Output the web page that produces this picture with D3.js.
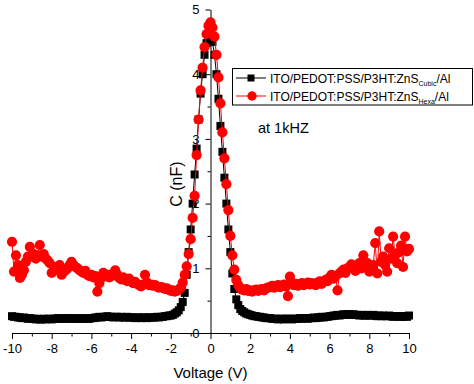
<!DOCTYPE html>
<html>
<head>
<meta charset="utf-8">
<script src="https://cdn.jsdelivr.net/npm/d3@7"></script>
<style>
  body { margin: 0; background: #fff; }
  svg { display: block; }
  text { font-family: Arial, "Liberation Sans", sans-serif; }
</style>
</head>
<body>
<div id="content"></div>
<script>
// ******* DATA *******
// bias sweep (V)
const voltage = [
  -10, -9.9, -9.8, -9.7, -9.6, -9.5, -9.4, -9.3, -9.2, -9.1,
  -9, -8.9, -8.8, -8.7, -8.6, -8.5, -8.4, -8.3, -8.2, -8.1,
  -8, -7.9, -7.8, -7.7, -7.6, -7.5, -7.4, -7.3, -7.2, -7.1,
  -7, -6.9, -6.8, -6.7, -6.6, -6.5, -6.4, -6.3, -6.2, -6.1,
  -6, -5.9, -5.8, -5.7, -5.6, -5.5, -5.4, -5.3, -5.2, -5.1,
  -5, -4.9, -4.8, -4.7, -4.6, -4.5, -4.4, -4.3, -4.2, -4.1,
  -4, -3.9, -3.8, -3.7, -3.6, -3.5, -3.4, -3.3, -3.2, -3.1,
  -3, -2.9, -2.8, -2.7, -2.6, -2.5, -2.4, -2.3, -2.2, -2.1,
  -2, -1.9, -1.8, -1.7, -1.6, -1.5, -1.4, -1.3, -1.2, -1.1,
  -1, -0.9, -0.8, -0.7, -0.6, -0.5, -0.4, -0.3, -0.2, -0.1,
  0, 0.1, 0.2, 0.3, 0.4, 0.5, 0.6, 0.7, 0.8, 0.9,
  1, 1.1, 1.2, 1.3, 1.4, 1.5, 1.6, 1.7, 1.8, 1.9,
  2, 2.1, 2.2, 2.3, 2.4, 2.5, 2.6, 2.7, 2.8, 2.9,
  3, 3.1, 3.2, 3.3, 3.4, 3.5, 3.6, 3.7, 3.8, 3.9,
  4, 4.1, 4.2, 4.3, 4.4, 4.5, 4.6, 4.7, 4.8, 4.9,
  5, 5.1, 5.2, 5.3, 5.4, 5.5, 5.6, 5.7, 5.8, 5.9,
  6, 6.1, 6.2, 6.3, 6.4, 6.5, 6.6, 6.7, 6.8, 6.9,
  7, 7.1, 7.2, 7.3, 7.4, 7.5, 7.6, 7.7, 7.8, 7.9,
  8, 8.1, 8.2, 8.3, 8.4, 8.5, 8.6, 8.7, 8.8, 8.9,
  9, 9.1, 9.2, 9.3, 9.4, 9.5, 9.6, 9.7, 9.8, 9.9,
  10
];

// capacitance (nF), cubic ZnS device
const capCubic = [
  0.26, 0.25, 0.25, 0.24, 0.24, 0.23, 0.24, 0.23, 0.22, 0.23,
  0.22, 0.22, 0.21, 0.22, 0.21, 0.21, 0.22, 0.21, 0.22, 0.22,
  0.21, 0.22, 0.22, 0.23, 0.22, 0.22, 0.23, 0.22, 0.22, 0.23,
  0.22, 0.23, 0.22, 0.22, 0.23, 0.22, 0.22, 0.23, 0.22, 0.22,
  0.23, 0.23, 0.24, 0.24, 0.25, 0.24, 0.25, 0.25, 0.26, 0.25,
  0.25, 0.24, 0.25, 0.25, 0.24, 0.25, 0.24, 0.24, 0.25, 0.24,
  0.24, 0.24, 0.23, 0.24, 0.24, 0.23, 0.24, 0.24, 0.23, 0.24,
  0.24, 0.24, 0.24, 0.25, 0.24, 0.25, 0.25, 0.26, 0.26, 0.27,
  0.27, 0.28, 0.30, 0.32, 0.35, 0.40, 0.48, 0.62, 0.90, 1.25,
  1.60, 2.00, 2.45, 2.85, 3.30, 3.70, 4.00, 4.30, 4.48, 4.55,
  4.57, 4.50, 4.30, 4.00, 3.62, 3.20, 2.80, 2.40, 2.00, 1.60,
  1.25, 0.92, 0.68, 0.52, 0.43, 0.37, 0.34, 0.32, 0.30, 0.29,
  0.28, 0.27, 0.26, 0.26, 0.25, 0.25, 0.24, 0.24, 0.23, 0.23,
  0.23, 0.22, 0.22, 0.22, 0.21, 0.22, 0.22, 0.21, 0.22, 0.22,
  0.22, 0.21, 0.22, 0.22, 0.22, 0.23, 0.22, 0.23, 0.23, 0.22,
  0.23, 0.23, 0.24, 0.23, 0.24, 0.24, 0.25, 0.24, 0.25, 0.25,
  0.26, 0.26, 0.27, 0.27, 0.28, 0.27, 0.28, 0.29, 0.28, 0.29,
  0.29, 0.28, 0.29, 0.28, 0.28, 0.27, 0.28, 0.27, 0.27, 0.28,
  0.27, 0.27, 0.28, 0.27, 0.26, 0.27, 0.26, 0.27, 0.26, 0.26,
  0.27, 0.26, 0.25, 0.26, 0.26, 0.25, 0.26, 0.25, 0.26, 0.25,
  0.27
];

// capacitance (nF), hexagonal ZnS device
const capHexa = [
  1.41, 0.95, 1.20, 1.05, 0.85, 0.90, 0.97, 1.10, 1.18, 1.33,
  1.18, 1.22, 1.15, 1.20, 1.36, 1.18, 1.22, 1.15, 1.12, 1.08,
  0.93, 0.96, 1.02, 1.00, 1.05, 0.90, 0.95, 0.97, 1.00, 1.05,
  1.10, 1.05, 1.02, 1.00, 0.97, 0.95, 0.93, 0.96, 0.90, 0.88,
  0.90, 0.86, 0.88, 0.64, 0.77, 0.85, 0.93, 0.88, 0.90, 0.86,
  0.88, 0.92, 0.97, 0.90, 0.85, 0.83, 0.86, 0.82, 0.80, 0.84,
  0.80, 0.77, 0.79, 0.76, 0.74, 0.72, 0.75, 0.90, 0.78, 0.74,
  0.75, 0.73, 0.74, 0.72, 0.70, 0.71, 0.70, 0.68, 0.69, 0.67,
  0.65, 0.66, 0.64, 0.65, 0.67, 0.70, 0.78, 0.90, 1.03, 1.22,
  1.45, 1.78, 2.12, 2.75, 3.30, 3.75, 4.10, 4.42, 4.62, 4.75,
  4.80, 4.72, 4.58, 4.30, 3.95, 3.55, 3.10, 2.70, 2.30, 1.90,
  1.50, 1.20, 0.98, 0.82, 0.74, 0.69, 0.67, 0.66, 0.68, 0.65,
  0.66, 0.64, 0.66, 0.67, 0.65, 0.67, 0.68, 0.66, 0.69, 0.70,
  0.71, 0.73, 0.70, 0.72, 0.74, 0.71, 0.73, 0.75, 0.72, 0.57,
  0.87, 0.78, 0.74, 0.76, 0.73, 0.75, 0.77, 0.74, 0.76, 0.78,
  0.75, 0.77, 0.76, 0.74, 0.78, 0.80, 0.76, 0.79, 0.82, 0.80,
  0.86, 0.90, 0.84, 0.88, 0.66, 0.92, 0.95, 0.98, 0.93, 1.00,
  1.02, 1.06, 1.00, 0.96, 1.04, 1.08, 1.00, 1.20, 1.05, 1.08,
  0.95, 1.00, 1.05, 1.39, 0.92, 1.57, 1.10, 1.18, 1.05, 0.95,
  1.31, 1.15, 1.49, 1.20, 1.08, 1.25, 1.35, 1.02, 1.49, 1.26,
  1.30
];

const seriesNames = ["Cubic", "Hexa"];
const xMajorTicks = [-10, -8, -6, -4, -2, 0, 2, 4, 6, 8, 10];
const xMinorTicks = [-9, -7, -5, -3, -1, 1, 3, 5, 7, 9];
const yMajorTicks = [0, 1, 2, 3, 4, 5];
const yMinorTicks = [0.5, 1.5, 2.5, 3.5, 4.5];

// ******* SETUP *******
const width = 474, height = 384;

const svg = d3.select("#content").append("svg")
    .attr("width", width)
    .attr("height", height);

const x = d3.scaleLinear().domain([-10, 10]).range([12, 409]);
const y = d3.scaleLinear().domain([0, 5]).range([333, 9.5]);

const cubicData = voltage.map((v, i) => ({ v: v, c: capCubic[i] }));
const hexaData = voltage.map((v, i) => ({ v: v, c: capHexa[i] }));

// plain hyphen minus like the original
const plainFormat = d => String(d);

//******* AXES *******
// x minor ticks
svg.append("g")
    .attr("transform", `translate(0,${y(0)})`)
    .call(d3.axisBottom(x).tickValues(xMinorTicks).tickSize(3.5).tickFormat(""))
    .call(g => g.select(".domain").remove());

// x major ticks + labels
const xAxis = svg.append("g")
    .attr("transform", `translate(0,${y(0)})`)
    .call(d3.axisBottom(x).tickValues(xMajorTicks).tickFormat(plainFormat)
        .tickSize(6).tickSizeOuter(0).tickPadding(5));
xAxis.selectAll("text")
    .attr("font-size", 13)
    .attr("fill", "#000")
    .attr("font-family", "Arial, 'Liberation Sans', sans-serif");

// y minor ticks
svg.append("g")
    .attr("transform", `translate(${x(0)},0)`)
    .call(d3.axisLeft(y).tickValues(yMinorTicks).tickSize(3).tickFormat(""))
    .call(g => g.select(".domain").remove());

// y major ticks + labels (drawn inside the plot, left of the 0 V line)
const yAxis = svg.append("g")
    .attr("transform", `translate(${x(0)},0)`)
    .call(d3.axisLeft(y).tickValues(yMajorTicks).tickFormat(plainFormat)
        .tickSize(5).tickSizeOuter(0).tickPadding(6));
yAxis.selectAll("text")
    .attr("font-size", 13)
    .attr("fill", "#000")
    .attr("font-family", "Arial, 'Liberation Sans', sans-serif");

svg.selectAll(".domain, .tick line").attr("stroke", "#000").attr("stroke-width", 1);

// axis titles
svg.append("text")
    .attr("x", x(0))
    .attr("y", 378)
    .attr("text-anchor", "middle")
    .attr("font-size", 15)
    .text("Voltage (V)");

svg.append("text")
    .attr("transform", `translate(182,${y(2.3)}) rotate(-90)`)
    .attr("text-anchor", "middle")
    .attr("font-size", 16)
    .text("C (nF)");

//******* SERIES *******
const line = d3.line().x(d => x(d.v)).y(d => y(d.c));

// cubic: black squares
svg.append("path")
    .datum(cubicData)
    .attr("fill", "none")
    .attr("stroke", "#000")
    .attr("stroke-width", 1)
    .attr("d", line);

const sq = 8;
svg.append("g").selectAll("rect")
    .data(cubicData)
    .join("rect")
    .attr("x", d => x(d.v) - sq / 2)
    .attr("y", d => y(d.c) - sq / 2)
    .attr("width", sq)
    .attr("height", sq)
    .attr("fill", "#000");

// hexa: red circles
svg.append("path")
    .datum(hexaData)
    .attr("fill", "none")
    .attr("stroke", "#ff0000")
    .attr("stroke-width", 1)
    .attr("d", line);

const rad = 5.1;
svg.append("g").selectAll("circle")
    .data(hexaData)
    .join("circle")
    .attr("cx", d => x(d.v))
    .attr("cy", d => y(d.c))
    .attr("r", rad)
    .attr("fill", "#ff0000");

//******* LEGEND *******
const legend = svg.append("g");

legend.append("rect")
    .attr("x", 232.5)
    .attr("y", 68.5)
    .attr("width", 240)
    .attr("height", 36.5)
    .attr("fill", "#fff")
    .attr("stroke", "#000")
    .attr("stroke-width", 1);

const legendRows = [78, 96];
seriesNames.forEach((name, i) => {
    const ly = legendRows[i];
    const color = i === 0 ? "#000" : "#ff0000";

    legend.append("line")
        .attr("x1", 236).attr("x2", 266)
        .attr("y1", ly).attr("y2", ly)
        .attr("stroke", color)
        .attr("stroke-width", 1);

    if (i === 0) {
        legend.append("rect")
            .attr("x", 251 - 3.5).attr("y", ly - 3.5)
            .attr("width", 7).attr("height", 7)
            .attr("fill", color);
    } else {
        legend.append("circle")
            .attr("cx", 252).attr("cy", ly)
            .attr("r", 4.7)
            .attr("fill", color);
    }

    const t = legend.append("text")
        .attr("x", 270)
        .attr("y", ly + 4.5)
        .attr("font-size", 12);
    t.append("tspan").text("ITO/PEDOT:PSS/P3HT:ZnS");
    t.append("tspan").attr("font-size", 7).attr("dy", 3).text(name);
    t.append("tspan").attr("dy", -3).text("/Al");
});

svg.append("text")
    .attr("x", 258)
    .attr("y", 133)
    .attr("font-size", 14.5)
    .text("at 1kHZ");
</script>
</body>
</html>
